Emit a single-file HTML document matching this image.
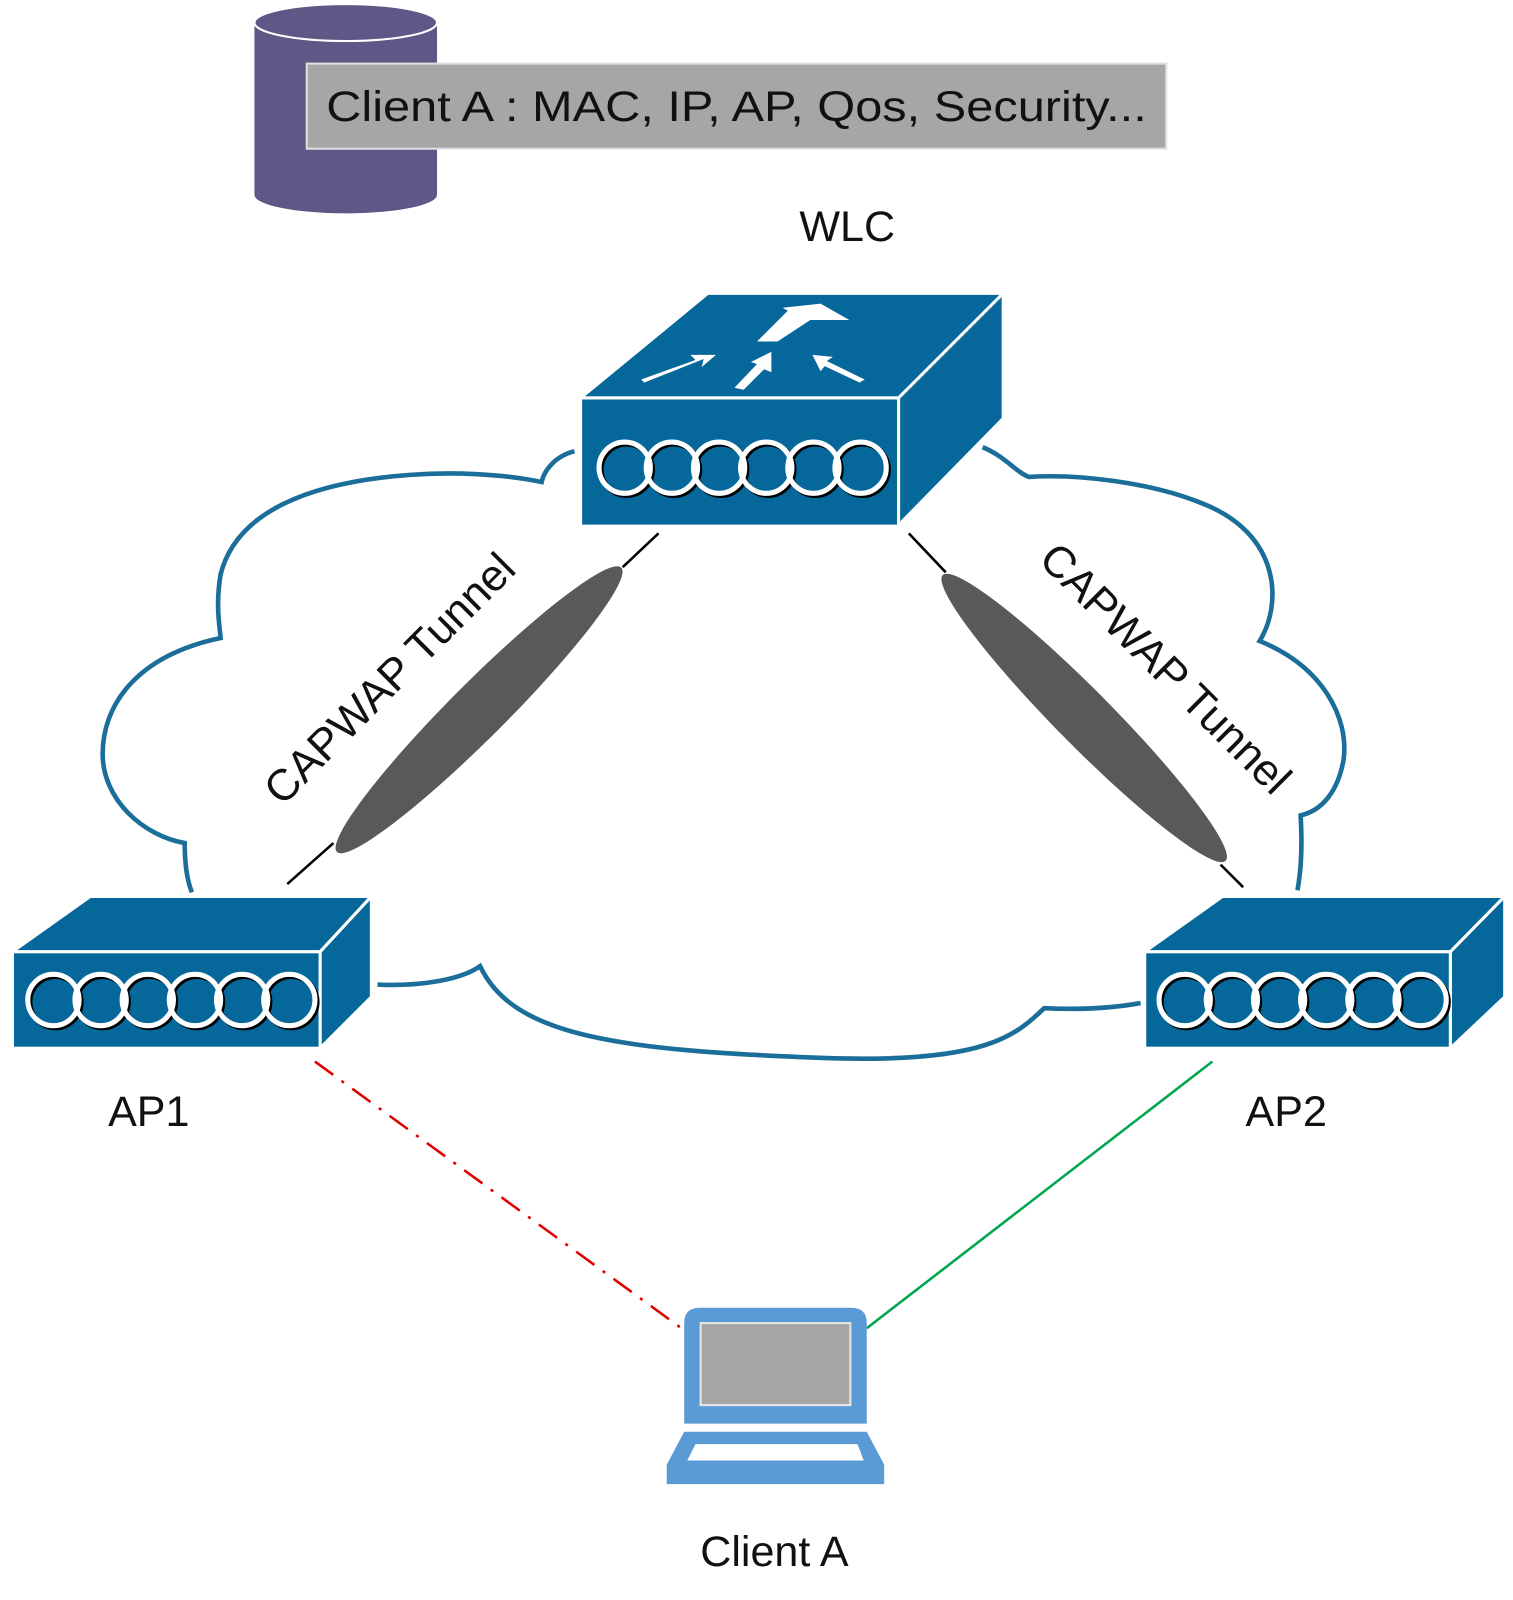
<!DOCTYPE html>
<html><head><meta charset="utf-8"><style>
html,body{margin:0;padding:0;background:#fff}
svg{display:block}
text{font-family:"Liberation Sans",sans-serif;fill:#111}
</style></head><body>
<svg width="1513" height="1600" viewBox="0 0 1475 1560" xmlns="http://www.w3.org/2000/svg">
<defs>
<g id="wave">
  <g fill="none" stroke="#000" stroke-width="5" transform="translate(2,2)">
    <ellipse cx="0" cy="0" rx="25" ry="25"/><ellipse cx="46" cy="0" rx="25" ry="25"/><ellipse cx="92" cy="0" rx="25" ry="25"/><ellipse cx="138" cy="0" rx="25" ry="25"/><ellipse cx="184" cy="0" rx="25" ry="25"/><ellipse cx="230" cy="0" rx="25" ry="25"/>
  </g>
  <g fill="none" stroke="#fff" stroke-width="5">
    <ellipse cx="0" cy="0" rx="25" ry="25"/><ellipse cx="46" cy="0" rx="25" ry="25"/><ellipse cx="92" cy="0" rx="25" ry="25"/><ellipse cx="138" cy="0" rx="25" ry="25"/><ellipse cx="184" cy="0" rx="25" ry="25"/><ellipse cx="230" cy="0" rx="25" ry="25"/>
  </g>
</g>
</defs>

<!-- cylinder -->
<rect x="248" y="22" width="178" height="168" fill="#5f5785"/>
<ellipse cx="337" cy="190" rx="89" ry="18" fill="#5f5785"/>
<ellipse cx="337" cy="22" rx="89" ry="18" fill="#5f5785" stroke="#fff" stroke-width="2"/>
<rect x="299" y="62" width="838" height="83" fill="#a6a6a6" stroke="#e0e0e0" stroke-width="2"/>
<text x="318" y="118" font-size="42" textLength="800" lengthAdjust="spacingAndGlyphs">Client A : MAC, IP, AP,  Qos, Security...</text>

<text x="826" y="235" font-size="42" text-anchor="middle">WLC</text>

<!-- cloud -->
<g fill="none" stroke="#1b6e99" stroke-width="4.5">
<path d="M560,440 C540,445 530,460 528,470 C490,462 440,460 400,463 C300,470 230,500 215,560 C210,590 214,610 215,622 C130,640 100,690 100,735 C100,780 140,815 180,822 C180,845 183,860 187,870"/>
<path d="M368,960 C410,962 450,955 468,942 C500,1010 600,1025 820,1032 C960,1035 990,1010 1018,983 C1060,985 1090,982 1112,978"/>
<path d="M958,436 C980,445 990,460 1003,465 C1050,462 1120,470 1170,490 C1250,520 1250,590 1228,625 C1290,650 1315,700 1310,740 C1305,770 1290,790 1268,795 C1270,830 1268,850 1265,868"/>
</g>

<!-- tunnels -->
<g stroke="#000" stroke-width="2.5">
<line x1="280" y1="862" x2="325" y2="822"/><line x1="607" y1="553" x2="642" y2="520"/>
<line x1="886" y1="520" x2="922" y2="558"/><line x1="1190" y1="843" x2="1212" y2="865"/>
</g>
<ellipse cx="467" cy="692" rx="196" ry="27" fill="#595959" transform="rotate(-45 467 692)"/>
<ellipse cx="1057" cy="700" rx="196" ry="27" fill="#595959" transform="rotate(45.3 1057 700)"/>
<text x="390" y="672" font-size="43" text-anchor="middle" transform="rotate(-45 390 672)">CAPWAP Tunnel</text>
<text x="1126" y="662" font-size="43" text-anchor="middle" transform="rotate(45 1126 662)">CAPWAP Tunnel</text>

<!-- WLC -->
<g fill="#05679a" stroke="#fff" stroke-width="3" stroke-linejoin="miter">
<polygon points="566,388 690,286 978,286 876,388"/>
<polygon points="876,388 978,286 978,408 876,512"/>
<rect x="566" y="388" width="310" height="125"/>
</g>
<g fill="#fff">
<polygon points="738,333 768,303 763,300 800,296 828,312 790,312 758,333"/>
<polygon points="628,373 686,350 684,358 698,346 673,346 678,351 625,370"/>
<polygon points="716,378 738,355 732,353 752,343 752,363 745,360 725,380"/>
<polygon points="843,370 806,352 812,348 792,346 800,362 804,357 838,373"/>
</g>
<use href="#wave" x="609" y="456"/>

<!-- AP1 -->
<g fill="#05679a" stroke="#fff" stroke-width="3">
<polygon points="12,928 88,874 362,874 312,928"/>
<polygon points="312,928 362,874 362,972 312,1022"/>
<rect x="12" y="928" width="300" height="94"/>
</g>
<use href="#wave" x="52" y="975"/>
<!-- AP2 -->
<g fill="#05679a" stroke="#fff" stroke-width="3">
<polygon points="1116,928 1192,874 1467,874 1414,928"/>
<polygon points="1414,928 1467,874 1467,972 1414,1022"/>
<rect x="1116" y="928" width="298" height="94"/>
</g>
<use href="#wave" x="1155" y="975"/>

<text x="145" y="1098" font-size="42" text-anchor="middle">AP1</text>
<text x="1254" y="1098" font-size="42" text-anchor="middle">AP2</text>

<!-- links -->
<line x1="307" y1="1035" x2="667" y2="1297" stroke="#e00000" stroke-width="2.5" stroke-dasharray="22,10,3,10"/>
<line x1="1182" y1="1035" x2="845" y2="1295" stroke="#00a550" stroke-width="2.5"/>

<!-- laptop -->
<path d="M667,1290 Q667,1275 682,1275 L830,1275 Q845,1275 845,1290 L845,1388 L667,1388 Z" fill="#5b9bd5"/>
<rect x="683" y="1290" width="146" height="80" fill="#a6a6a6" stroke="#e6e6e6" stroke-width="2"/>
<path d="M667,1396 L845,1396 L862,1428 L862,1447 L650,1447 L650,1428 Z" fill="#5b9bd5"/>
<polygon points="678,1408 836,1408 842,1424 670,1424" fill="#fff"/>

<text x="755" y="1527" font-size="42" text-anchor="middle">Client A</text>
</svg>
</body></html>
